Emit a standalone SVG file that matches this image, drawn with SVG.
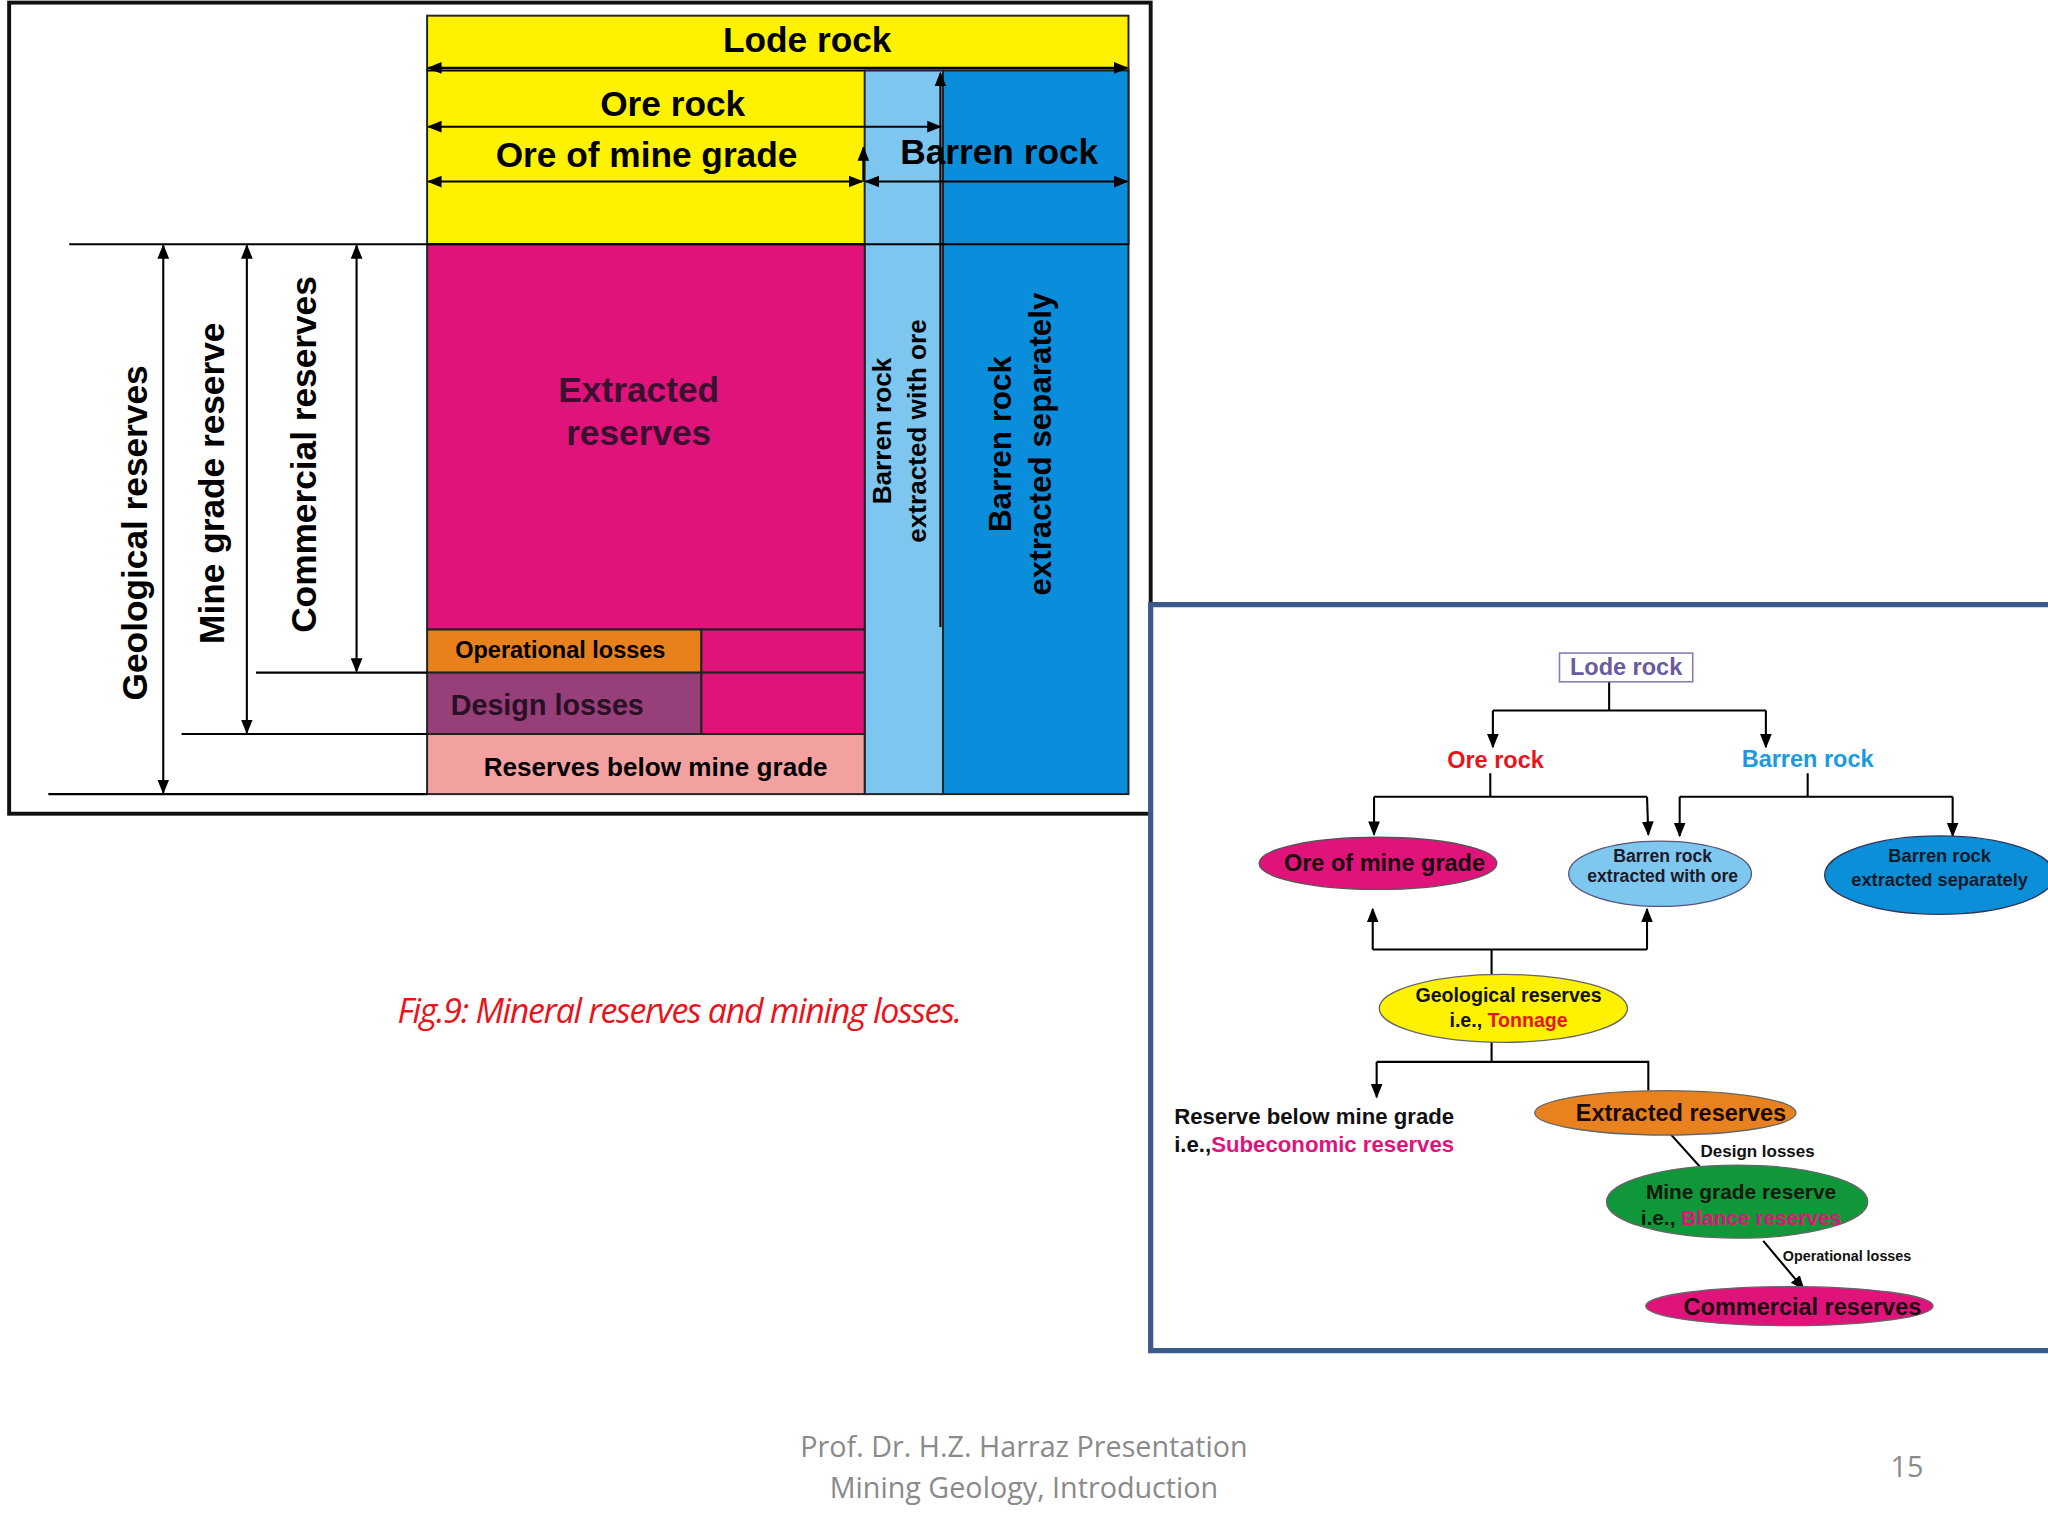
<svg xmlns="http://www.w3.org/2000/svg" width="2048" height="1536" viewBox="0 0 2048 1536">
<defs>
<marker id="ah" viewBox="0 0 10 10" refX="9" refY="5" markerWidth="7" markerHeight="7" orient="auto-start-reverse"><path d="M0,1 L10,5 L0,9 z" fill="#000"/></marker>
<style>
text{font-family:"Liberation Sans",Arial,sans-serif;font-weight:bold;text-anchor:middle;dominant-baseline:central}
.ln{stroke:#000;stroke-width:1.6;fill:none}
.ar{stroke:#000;stroke-width:1.6;fill:none;marker-end:url(#ah)}
.dar{stroke:#000;stroke-width:1.6;fill:none;marker-end:url(#ah);marker-start:url(#ah)}
.box{stroke:#222;stroke-width:1.5}
.ft{font-family:"Open Sans","Lato",sans-serif;font-weight:normal;fill:#8a8a8a;font-size:22px}
</style>
</defs>
<rect width="2048" height="1536" fill="#fff"/>
<g transform="scale(1.30612)">
<g id="left-panel">
<rect x="7" y="2" width="874" height="621" fill="#fff" stroke="#111" stroke-width="3"/>
<rect class="box" x="327" y="12" width="537" height="175" fill="#fff200"/>
<line class="ln" x1="327" y1="54" x2="864" y2="54"/>
<rect class="box" x="662" y="54" width="60" height="554" fill="#7cc6ef"/>
<rect class="box" x="722" y="54" width="142" height="554" fill="#0a8edb"/>
<rect class="box" x="327" y="187" width="335" height="295" fill="#e0137b"/>
<rect class="box" x="327" y="482" width="210" height="33" fill="#e8801c"/>
<rect class="box" x="537" y="482" width="125" height="33" fill="#e0137b"/>
<rect class="box" x="327" y="515" width="210" height="47" fill="#963f78"/>
<rect class="box" x="537" y="515" width="125" height="47" fill="#e0137b"/>
<rect class="box" x="327" y="562" width="335" height="46" fill="#f2a0a0"/>
<line class="ln" x1="53" y1="187" x2="864" y2="187"/>
<line class="ln" x1="37" y1="608" x2="327" y2="608"/>
<line class="ln" x1="139" y1="562" x2="327" y2="562"/>
<line class="ln" x1="196" y1="515" x2="327" y2="515"/>
<line class="dar" x1="125" y1="188" x2="125" y2="607"/>
<line class="dar" x1="189" y1="188" x2="189" y2="561"/>
<line class="dar" x1="273" y1="188" x2="273" y2="514"/>
<line class="dar" x1="328" y1="52" x2="863" y2="52"/>
<line class="dar" x1="328" y1="97" x2="720" y2="97"/>
<line class="dar" x1="328" y1="139" x2="660" y2="139"/>
<line class="dar" x1="663" y1="139" x2="863" y2="139"/>
<line class="ar" x1="720" y1="480" x2="720" y2="56"/>
<line class="ar" x1="661" y1="139" x2="661" y2="113"/>
<text x="618" y="30" font-size="27">Lode rock</text>
<text x="515" y="79" font-size="27">Ore rock</text>
<text x="495" y="118" font-size="27">Ore of mine grade</text>
<text x="765" y="116" font-size="27">Barren rock</text>
<text x="489" y="298" font-size="27" fill="#3a1030">Extracted</text>
<text x="489" y="331" font-size="27" fill="#3a1030">reserves</text>
<text x="429" y="498" font-size="18">Operational losses</text>
<text x="419" y="540" font-size="22" fill="#2a1025">Design losses</text>
<text x="502" y="587" font-size="20">Reserves below mine grade</text>
<text transform="translate(103,408) rotate(-90)" font-size="27">Geological reserves</text>
<text transform="translate(162,370) rotate(-90)" font-size="27">Mine grade reserve</text>
<text transform="translate(232,348) rotate(-90)" font-size="27">Commercial reserves</text>
<text transform="translate(675,330) rotate(-90)" font-size="20">Barren rock</text>
<text transform="translate(702,330) rotate(-90)" font-size="20">extracted with ore</text>
<text transform="translate(766,340) rotate(-90)" font-size="24">Barren rock</text>
<text transform="translate(797,340) rotate(-90)" font-size="24">extracted separately</text>
</g>
<text x="520" y="773" font-size="26" style="font-family:'Open Sans',sans-serif;font-weight:normal;font-style:italic;letter-spacing:-1px" fill="#e8141c">Fig.9: Mineral reserves and mining losses.</text>
<g id="right-panel">
<path d="M1568,463 H881 V1034 H1568" fill="none" stroke="#3b5a8a" stroke-width="4"/>
</g>
<g id="connectors">
<path class="ln" d="M1232,522 V544 H1143 M1232,544 H1352"/>
<line class="ar" x1="1143" y1="544" x2="1143" y2="572"/>
<line class="ar" x1="1352" y1="544" x2="1352" y2="572"/>
<path class="ln" d="M1141,592 V610 H1052 M1141,610 H1261"/>
<line class="ar" x1="1052" y1="610" x2="1052" y2="639"/>
<line class="ar" x1="1261" y1="610" x2="1262" y2="639"/>
<path class="ln" d="M1384,592 V610 H1286 M1384,610 H1495"/>
<line class="ar" x1="1286" y1="610" x2="1286" y2="640"/>
<line class="ar" x1="1495" y1="610" x2="1495" y2="640"/>
<path class="ln" d="M1051,727 H1261 M1142,727 V760"/>
<line class="ar" x1="1051" y1="727" x2="1051" y2="696"/>
<line class="ar" x1="1261" y1="727" x2="1261" y2="696"/>
<path class="ln" d="M1142,790 V813 H1262 V835 M1142,813 H1054"/>
<line class="ar" x1="1054" y1="813" x2="1054" y2="840"/>
<line class="ar" x1="1277" y1="866" x2="1312" y2="905"/>
<line class="ar" x1="1350" y1="950" x2="1381" y2="987"/>
</g>
<g id="lode"><rect x="1194" y="500" width="102" height="22" fill="#fff" stroke="#8a7ab0" stroke-width="1.2"/><text x="1245" y="511" font-size="18" fill="#6a5aa0">Lode rock</text></g>
<g id="ore"><text x="1145" y="582" font-size="18" fill="#e8141c">Ore rock</text></g>
<g id="barren"><text x="1384" y="581" font-size="18" fill="#1a9ae0">Barren rock</text></g>
<g id="omg"><ellipse cx="1055" cy="661" rx="91" ry="20" fill="#e0137b" stroke="#555" stroke-width="1"/><text x="1060" y="661" font-size="18" fill="#1a0a10">Ore of mine grade</text></g>
<g id="bwo"><ellipse cx="1271" cy="669" rx="70" ry="25" fill="#7ec8f0" stroke="#557" stroke-width="1"/><text x="1273" y="655" font-size="13.5" fill="#1a1a2a">Barren rock</text><text x="1273" y="671" font-size="13.5" fill="#1a1a2a">extracted with ore</text></g>
<g id="bsep"><ellipse cx="1485" cy="670" rx="88" ry="30" fill="#0b8fd8" stroke="#335" stroke-width="1"/><text x="1485" y="655" font-size="14" fill="#0a1a2a">Barren rock</text><text x="1485" y="673" font-size="14" fill="#0a1a2a">extracted separately</text></g>
<g id="geo"><ellipse cx="1151" cy="772" rx="95" ry="26" fill="#fff200" stroke="#666" stroke-width="1"/><text x="1155" y="762" font-size="15" fill="#111">Geological reserves</text><text x="1155" y="781" font-size="15" fill="#111">i.e., <tspan fill="#e8141c">Tonnage</tspan></text></g>
<g id="below"><text x="899" y="855" font-size="17" style="text-anchor:start" fill="#111">Reserve below mine grade</text><text x="899" y="876" font-size="17" style="text-anchor:start" fill="#111">i.e.,<tspan fill="#e0137b">Subeconomic reserves</tspan></text></g>
<g id="extr"><ellipse cx="1275" cy="852" rx="100" ry="17" fill="#e8821e" stroke="#666" stroke-width="1"/><text x="1287" y="852" font-size="18" fill="#1a0a00">Extracted reserves</text></g>
<text x="1302" y="882" font-size="13" style="text-anchor:start" fill="#111">Design losses</text>
<g id="mgr"><ellipse cx="1330" cy="920" rx="100" ry="28" fill="#10973a" stroke="#666" stroke-width="1"/><text x="1333" y="912" font-size="16" fill="#0a1a0a">Mine grade reserve</text><text x="1333" y="932" font-size="16" fill="#0a1a0a">i.e., <tspan fill="#e0137b">Blance reserves</tspan></text></g>
<text x="1365" y="962" font-size="11" style="text-anchor:start" fill="#111">Operational losses</text>
<g id="comm"><ellipse cx="1370" cy="1000" rx="110" ry="15" fill="#e0137b" stroke="#666" stroke-width="1"/><text x="1380" y="1001" font-size="18" fill="#1a0a10">Commercial reserves</text></g>
<text class="ft" x="784" y="1107">Prof. Dr. H.Z. Harraz Presentation</text>
<text class="ft" x="784" y="1138">Mining Geology, Introduction</text>
<text class="ft" x="1460" y="1122">15</text>
</g>
</svg>
